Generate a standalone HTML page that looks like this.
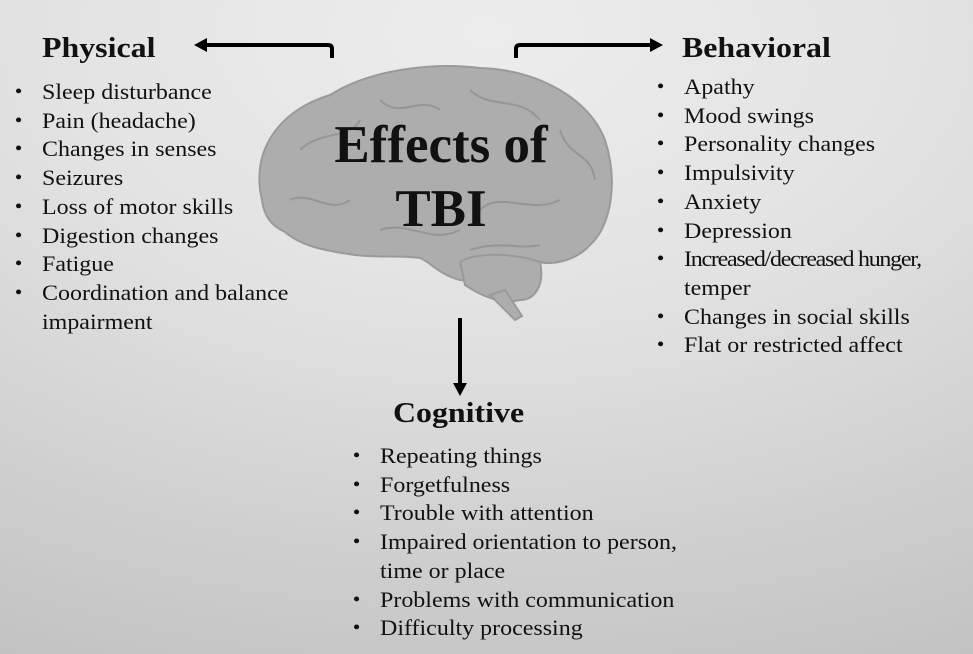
<!DOCTYPE html>
<html><head><style>
html,body{margin:0;padding:0}
body{width:973px;height:654px;overflow:hidden;position:relative;font-family:"Liberation Serif",serif;color:#111;
background:radial-gradient(ellipse 120% 110% at 50% 5%,#ededed 0%,#e2e2e2 40%,#cbcbcb 80%,#c0c0c0 100%);}
.h{position:absolute;font-weight:bold;font-size:29px;line-height:30px;transform:scaleX(1.1);transform-origin:0 0}
ul{position:absolute;margin:0;padding:0;list-style:none;font-size:22px;line-height:28.7px;transform:scaleX(1.09);transform-origin:0 0}
li{position:relative}
li:before{content:"•";position:absolute;left:-25px;font-size:20px}
.t{position:absolute;font-weight:bold;font-size:53px;line-height:64px;text-align:center;width:300px;left:291px;top:113px}
</style></head><body>
<svg width="973" height="654" style="position:absolute;left:0;top:0">
<g fill="#adadad" stroke="#9a9a9a" stroke-width="2">
<path d="M262,200 C250,150 280,110 330,95 C370,70 430,62 480,68 C540,70 590,100 605,140 C618,180 612,225 590,245 C575,262 550,265 540,262 C530,275 520,285 505,282 C480,290 470,280 460,280 C440,275 430,262 420,258 C400,255 380,258 355,255 C320,250 300,245 285,232 C270,225 264,215 262,200 Z"/>
<path d="M460,262 C480,250 520,255 540,262 C545,285 535,300 520,300 C500,305 480,295 465,285 Z"/>
<path d="M490,295 L515,320 L522,316 L505,290 Z"/>
</g>
<g fill="none" stroke="#8c8c8c" stroke-width="2" opacity="0.7">
<path d="M300,150 C320,130 350,140 360,120 M380,100 C400,120 420,95 440,110 M470,90 C490,110 520,95 540,120 M560,130 C570,160 590,150 595,180 M290,200 C310,190 330,215 350,200 M380,230 C410,220 430,245 460,230 M480,210 C500,190 530,215 560,200 M470,250 C500,240 520,250 540,245"/>
</g>
<g stroke="#000" stroke-width="4" fill="none">
<path d="M332,58 V49 Q332,45 328,45 H204"/>
<path d="M516,58 V49 Q516,45 520,45 H652"/>
<path d="M460,318 V386"/>
</g>
<path d="M194,45 L207,38 L207,52 Z"/>
<path d="M663,45 L650,38 L650,52 Z"/>
<path d="M460,396 L453,383 L467,383 Z"/>
</svg>
<div class="t">Effects of<br>TBI</div>
<div class="h" style="left:42px;top:33px">Physical</div>
<div class="h" style="left:682px;top:33px">Behavioral</div>
<div class="h" style="left:393px;top:398px">Cognitive</div>
<ul style="left:42px;top:78px">
<li>Sleep disturbance</li><li>Pain (headache)</li><li>Changes in senses</li><li>Seizures</li><li>Loss of motor skills</li><li>Digestion changes</li><li>Fatigue</li><li>Coordination and balance<br>impairment</li></ul>
<ul style="left:684px;top:73px">
<li>Apathy</li><li>Mood swings</li><li>Personality changes</li><li>Impulsivity</li><li>Anxiety</li><li>Depression</li><li><span style="letter-spacing:-1.15px">Increased/decreased hunger,</span><br>temper</li><li>Changes in social skills</li><li>Flat or restricted affect</li></ul>
<ul style="left:380px;top:442px">
<li>Repeating things</li><li>Forgetfulness</li><li>Trouble with attention</li><li>Impaired orientation to person,<br>time or place</li><li>Problems with communication</li><li>Difficulty processing</li></ul>
</body></html>
